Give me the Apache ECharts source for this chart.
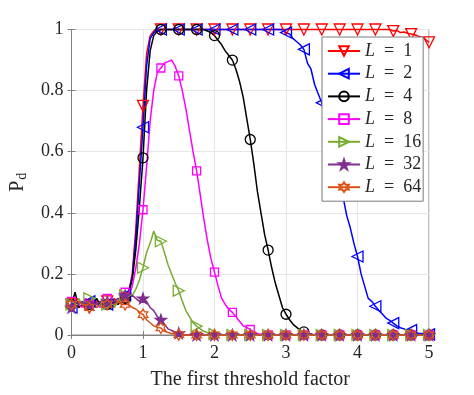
<!DOCTYPE html>
<html><head><meta charset="utf-8">
<script src="https://cdn.jsdelivr.net/npm/echarts@6/dist/echarts.min.js"></script>
<style>html,body{margin:0;padding:0;background:#fff}#c{width:474px;height:395px}</style>
</head><body><div id="c"></div>
<script>
const xValues = [0,0.05,0.1,0.15,0.2,0.25,0.3,0.35,0.4,0.45,0.5,0.55,0.6,0.65,0.7,0.75,0.8,0.85,0.9,0.95,
1,1.05,1.1,1.15,1.2,1.25,1.3,1.35,1.4,1.45,1.5,1.55,1.6,1.65,1.7,1.75,1.8,1.85,1.9,1.95,
2,2.05,2.1,2.15,2.2,2.25,2.3,2.35,2.4,2.45,2.5,2.55,2.6,2.65,2.7,2.75,2.8,2.85,2.9,2.95,
3,3.05,3.1,3.15,3.2,3.25,3.3,3.35,3.4,3.45,3.5,3.55,3.6,3.65,3.7,3.75,3.8,3.85,3.9,3.95,
4,4.05,4.1,4.15,4.2,4.25,4.3,4.35,4.4,4.45,4.5,4.55,4.6,4.65,4.7,4.75,4.8,4.85,4.9,4.95,5];

const xTicks = [0,1,2,3,4,5];
const yTicks = [0,0.2,0.4,0.6,0.8,1];

const pdL1 = [0.10,0.11,0.09,0.10,0.12,0.09,0.10,0.11,0.10,0.09,0.11,0.10,0.12,0.10,0.11,0.12,
0.14,0.20,0.35,0.55,0.75,0.92,0.98,0.995,
1,1,1,1,1,1,1,1,1,1,1,
1,1,1,1,1,1,1,1,1,1,1,
1,1,1,1,1,1,1,1,1,1,1,
1,1,1,1,1,1,1,1,1,1,1,
1,1,1,1,1,1,1,1,1,1,1,
1,1,1,1,1,1,1,1,1,1,1,
0.995,0.997,0.99,0.992,0.988,0.985,0.983,0.978,0.975,0.968,0.958];

const pdL2 = [0.09,0.10,0.11,0.10,0.09,0.11,0.10,0.09,0.11,0.10,0.10,0.12,0.10,0.11,0.12,0.13,
0.14,0.19,0.32,0.50,0.68,0.88,0.97,0.99,
1,1,1,1,1,1,1,1,1,1,1,1,
1,1,1,1,1,1,1,1,1,1,1,1,
1,1,1,1,1,1,1,1,1,1,1,1,
0.99,0.985,0.97,0.96,0.95,0.935,0.89,0.87,0.82,0.79,0.76,0.70,0.64,0.58,0.54,0.52,0.45,0.39,0.35,0.30,
0.257,0.20,0.16,0.12,0.11,0.094,0.08,0.068,0.055,0.048,0.039,0.03,0.024,0.02,0.015,0.016,0.01,0.006,0.005,0.003,0.002];

const pdL4 = [0.10,0.14,0.09,0.10,0.11,0.10,0.09,0.12,0.10,0.11,0.10,0.09,0.11,0.10,0.12,0.12,
0.14,0.18,0.28,0.42,0.58,0.80,0.93,0.98,0.995,
1,1,1,1,1,1,1,1,1,1,1,1,1,
0.995,0.99,0.98,0.965,0.95,0.93,0.915,0.90,0.87,0.83,0.78,0.71,0.64,0.56,0.47,
0.40,0.33,0.278,0.22,0.17,0.13,0.09,0.068,0.05,0.035,0.025,0.015,0.01,0.005,0.003,
0,0,0,0,0,0,0,0,0,0,0,
0,0,0,0,0,0,0,0,0,0,0,
0,0,0,0,0,0,0,0,0,0,0];

const pdL8 = [0.11,0.10,0.10,0.09,0.12,0.10,0.11,0.10,0.09,0.10,0.12,0.11,0.10,0.11,0.13,0.14,
0.13,0.16,0.22,0.30,0.41,0.55,0.70,0.80,0.86,0.874,0.89,0.895,0.90,0.88,0.848,0.80,0.74,0.67,0.60,0.537,
0.46,0.38,0.31,0.25,0.206,0.16,0.12,0.10,0.085,0.074,0.06,0.045,0.03,0.025,0.018,0.01,0.005,0.002,
0,0,0,0,0,0,0,0,0,0,
0,0,0,0,0,0,0,0,0,0,
0,0,0,0,0,0,0,0,0,0,
0,0,0,0,0,0,0,0,0,0,
0,0,0,0,0,0,0];

const pdL16 = [0.10,0.09,0.12,0.10,0.10,0.12,0.11,0.09,0.10,0.12,0.10,0.11,0.09,0.11,0.12,0.13,
0.12,0.13,0.15,0.18,0.22,0.27,0.30,0.34,0.31,0.307,0.27,0.23,0.20,0.17,0.145,
0.11,0.08,0.06,0.04,0.029,0.02,0.012,0.008,0.005,0.003,
0,0,0,0,0,0,0,0,0,0,
0,0,0,0,0,0,0,0,0,0,
0,0,0,0,0,0,0,0,0,0,
0,0,0,0,0,0,0,0,0,0,
0,0,0,0,0,0,0,0,0,0,
0,0,0,0,0,0,0,0,0,0];

const pdL32 = [0.09,0.11,0.10,0.11,0.09,0.10,0.12,0.10,0.11,0.09,0.11,0.10,0.11,0.12,0.11,0.13,
0.12,0.13,0.12,0.11,0.12,0.11,0.09,0.08,0.06,0.05,0.035,0.02,0.015,0.01,0.006,0.003,
0,0,0,0,0,0,0,0,0,0,
0,0,0,0,0,0,0,0,0,0,
0,0,0,0,0,0,0,0,0,0,
0,0,0,0,0,0,0,0,0,0,
0,0,0,0,0,0,0,0,0,0,
0,0,0,0,0,0,0,0,0,0,
0,0,0,0,0,0,0,0,0];

const pdL64 = [0.10,0.09,0.11,0.10,0.08,0.09,0.10,0.09,0.10,0.11,0.10,0.09,0.10,0.11,0.10,0.10,
0.10,0.09,0.085,0.075,0.067,0.05,0.04,0.03,0.025,0.023,0.012,0.008,0.005,0.003,0.001,
0,0,0,0,0,0,0,0,0,0,
0,0,0,0,0,0,0,0,0,0,
0,0,0,0,0,0,0,0,0,0,
0,0,0,0,0,0,0,0,0,0,
0,0,0,0,0,0,0,0,0,0,
0,0,0,0,0,0,0,0,0,0,
0,0,0,0,0,0,0,0,0,0];

const seriesNames = ['L = 1','L = 2','L = 4','L = 8','L = 16','L = 32','L = 64'];

const STAR = 'path://M0,-100 L22.45,-30.9 L95.1,-30.9 L36.3,11.8 L58.8,80.9 L0,38.2 L-58.8,80.9 L-36.3,11.8 L-95.1,-30.9 L-22.45,-30.9 Z';
const HEXA = 'path://M0,-100 L28.87,-50 L86.6,-50 L57.7,0 L86.6,50 L28.87,50 L0,100 L-28.87,50 L-86.6,50 L-57.7,0 L-86.6,-50 L-28.87,-50 Z';

const serif = "'Liberation Serif','Times New Roman',serif";
const defs = [
  {ys: pdL1, color:'#FF0000', symbol:'triangle', rotate:180, size:11, filled:false},
  {ys: pdL2, color:'#0000FF', symbol:'triangle', rotate:90, size:11, filled:false},
  {ys: pdL4, color:'#000000', symbol:'circle', rotate:0, size:10, filled:false},
  {ys: pdL8, color:'#FF00FF', symbol:'rect', rotate:0, size:8, filled:false},
  {ys: pdL16, color:'#77AC30', symbol:'triangle', rotate:-90, size:11, filled:false},
  {ys: pdL32, color:'#7E2F8E', symbol:STAR, rotate:0, size:11, filled:true},
  {ys: pdL64, color:'#D95319', symbol:HEXA, rotate:0, size:11, filled:false}
];

const chart = echarts.init(document.getElementById('c'));
const axisGray = '#808080';
const txt = '#262626';
chart.setOption({
  animation:false,
  backgroundColor:'#ffffff',
  grid:{left:65, right:45, top:29.5, bottom:51, show:true, borderColor:axisGray, borderWidth:1},
  xAxis:[{
    type:'value', min:xTicks[0], max:xTicks[xTicks.length-1], interval:1,
    name:'The first threshold factor', nameLocation:'middle', nameGap:35,
    nameTextStyle:{fontFamily:serif, fontSize:20, color:txt},
    axisLine:{show:true, lineStyle:{color:axisGray}},
    axisTick:{show:true, inside:true, length:4, lineStyle:{color:axisGray}},
    axisLabel:{fontFamily:serif, fontSize:18, color:txt, margin:9},
    splitLine:{show:true, lineStyle:{color:'#e6e6e6', width:1}}
  },{
    type:'value', position:'top', min:xTicks[0], max:xTicks[xTicks.length-1], interval:1,
    axisLine:{show:true, lineStyle:{color:axisGray}},
    axisTick:{show:true, inside:true, length:4, lineStyle:{color:axisGray}},
    axisLabel:{show:false}, splitLine:{show:false}
  }],
  yAxis:[{
    type:'value', min:yTicks[0], max:yTicks[yTicks.length-1], interval:0.2,
    name:'{p|P}{d|d}', nameLocation:'middle', nameGap:42, nameRotate:90,
    nameTextStyle:{fontFamily:serif, color:txt, rich:{
      p:{fontFamily:serif, fontSize:20, color:txt},
      d:{fontFamily:serif, fontSize:14, color:txt, padding:[9,0,0,1]}
    }},
    axisLine:{show:true, lineStyle:{color:axisGray}},
    axisTick:{show:true, inside:true, length:4, lineStyle:{color:axisGray}},
    axisLabel:{fontFamily:serif, fontSize:18, color:txt, margin:8},
    splitLine:{show:true, lineStyle:{color:'#e6e6e6', width:1}}
  },{
    type:'value', position:'right', min:yTicks[0], max:yTicks[yTicks.length-1], interval:0.2,
    axisLine:{show:true, lineStyle:{color:axisGray}},
    axisTick:{show:true, inside:true, length:4, lineStyle:{color:axisGray}},
    axisLabel:{show:false}, splitLine:{show:false}
  }],
  legend:{
    orient:'vertical', left:322, top:37, data:seriesNames,
    backgroundColor:'#ffffff', borderColor:'#7a7a7a', borderWidth:1,
    padding:[5,2,5,5], itemWidth:32, itemHeight:12, itemGap:4.7,
    textStyle:{fontFamily:serif, fontSize:18, color:txt, lineHeight:18,
      rich:{i:{fontFamily:serif, fontStyle:'italic', fontSize:18, color:txt}}},
    formatter: n => '{i|L}  =  ' + n.split('= ')[1],
    selectedMode:false
  },
  series: defs.map((d,k) => ({
    type:'line', name:seriesNames[k], xAxisIndex:0, yAxisIndex:0,
    data: xValues.map((x,i) => [x, d.ys[i]]),
    showAllSymbol:true, clip:false,
    symbol:d.symbol, symbolRotate:d.rotate, symbolKeepAspect:true,
    symbolSize:(v,p) => (p.dataIndex % 5 === 0 ? d.size : 0),
    lineStyle:{color:d.color, width:1.5},
    itemStyle:{color: d.filled ? d.color : 'none', borderColor:d.color, borderWidth:1.3},
    emphasis:{disabled:true}
  }))
});
</script></body></html>
